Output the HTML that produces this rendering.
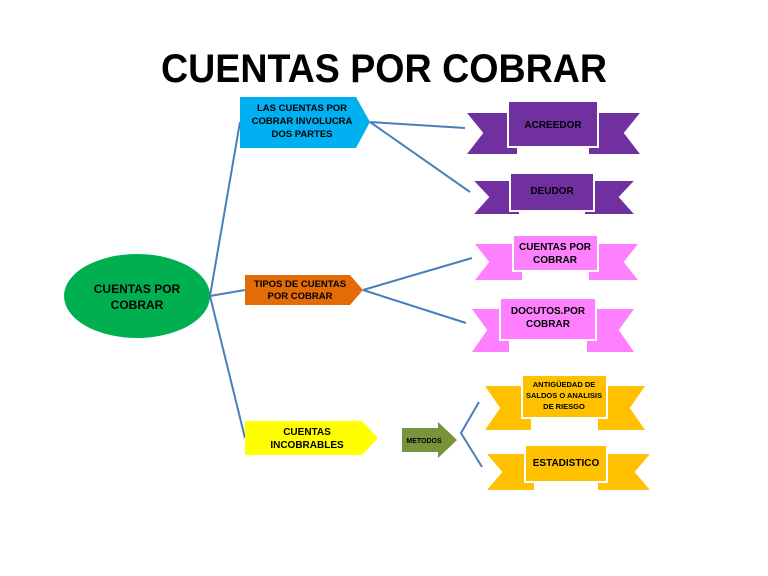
<!DOCTYPE html>
<html><head><meta charset="utf-8"><style>html,body{margin:0;padding:0;background:#fff}svg{display:block}</style></head>
<body>
<svg width="768" height="576" viewBox="0 0 768 576" xmlns="http://www.w3.org/2000/svg" font-family="Liberation Sans, sans-serif">
<rect width="768" height="576" fill="#fff"/>
<text x="384" y="82" font-size="40" font-weight="bold" text-anchor="middle" textLength="446" lengthAdjust="spacingAndGlyphs" fill="#000">CUENTAS POR COBRAR</text>
<g stroke="#4a7ebb" stroke-width="2" fill="none">
<line x1="210" y1="296" x2="240" y2="122"/>
<line x1="210" y1="296" x2="245" y2="290"/>
<line x1="210" y1="296" x2="245" y2="438"/>
<line x1="370" y1="122" x2="465" y2="128"/>
<line x1="370" y1="122" x2="470" y2="192"/>
<line x1="363" y1="290" x2="472" y2="258"/>
<line x1="363" y1="290" x2="466" y2="323"/>
<polyline points="479,402 461,433 482,467"/>
</g>
<ellipse cx="137" cy="296" rx="73" ry="42" fill="#00b050"/>
<g font-weight="bold">
<text x="137" y="293" font-size="12" text-anchor="middle">CUENTAS POR</text>
<text x="137" y="309" font-size="12" text-anchor="middle">COBRAR</text>
<polygon points="240,97 356,97 370,122 356,148 240,148" fill="#00b0f0"/>
<text font-size="9.5" text-anchor="middle"><tspan x="302" y="111">LAS CUENTAS POR</tspan><tspan x="302" y="124">COBRAR INVOLUCRA</tspan><tspan x="302" y="137">DOS PARTES</tspan></text>
<polygon points="245,275 350,275 363,290 350,305 245,305" fill="#e36c09"/>
<text font-size="9.5" text-anchor="middle"><tspan x="300" y="287">TIPOS DE CUENTAS</tspan><tspan x="300" y="299">POR COBRAR</tspan></text>
<polygon points="245,421 362,421 378,438 362,455 245,455" fill="#ffff00"/>
<text font-size="10" text-anchor="middle"><tspan x="307" y="435">CUENTAS</tspan><tspan x="307" y="448">INCOBRABLES</tspan></text>
<polygon points="402,428 438,428 438,422 457,440 438,458 438,452 402,452" fill="#77933c"/>
<text x="424" y="443" font-size="7" text-anchor="middle">METODOS</text>
</g>
<g stroke="#fff" stroke-width="2">
<polygon points="465,112 518,112 518,155 465,155 482,133" fill="#7030a0"/>
<polygon points="642,112 588,112 588,155 642,155 625,133" fill="#7030a0"/>
<rect x="508" y="101" width="90" height="46" fill="#7030a0"/>
<polygon points="472,180 520,180 520,215 472,215 488,197" fill="#7030a0"/>
<polygon points="636,180 584,180 584,215 636,215 620,197" fill="#7030a0"/>
<rect x="510" y="173" width="84" height="38" fill="#7030a0"/>
<polygon points="473,243 523,243 523,281 473,281 488,262" fill="#ff80ff"/>
<polygon points="640,243 588,243 588,281 640,281 625,262" fill="#ff80ff"/>
<rect x="513" y="235" width="85" height="36" fill="#ff80ff"/>
<polygon points="470,308 510,308 510,353 470,353 486,330" fill="#ff80ff"/>
<polygon points="636,308 586,308 586,353 636,353 620,330" fill="#ff80ff"/>
<rect x="500" y="298" width="96" height="42" fill="#ff80ff"/>
<polygon points="483,385 532,385 532,431 483,431 499,408" fill="#ffc000"/>
<polygon points="647,385 597,385 597,431 647,431 631,408" fill="#ffc000"/>
<rect x="522" y="375" width="85" height="43" fill="#ffc000"/>
<polygon points="485,453 535,453 535,491 485,491 501,472" fill="#ffc000"/>
<polygon points="652,453 597,453 597,491 652,491 636,472" fill="#ffc000"/>
<rect x="525" y="445" width="82" height="37" fill="#ffc000"/>
</g>
<g font-size="10" text-anchor="middle" fill="#000" font-weight="bold">
<text x="553" y="128">ACREEDOR</text>
<text x="552" y="194">DEUDOR</text>
<text x="555" y="250">CUENTAS POR</text><text x="555" y="263">COBRAR</text>
<text x="548" y="314">DOCUTOS.POR</text><text x="548" y="327">COBRAR</text>
</g>
<g font-size="7.5" text-anchor="middle" fill="#000" font-weight="bold">
<text x="564" y="387">ANTIGÜEDAD DE</text><text x="564" y="398">SALDOS O ANALISIS</text><text x="564" y="409">DE RIESGO</text>
</g>
<text x="566" y="466" font-size="10" font-weight="bold" text-anchor="middle">ESTADISTICO</text>
</svg>
</body></html>
